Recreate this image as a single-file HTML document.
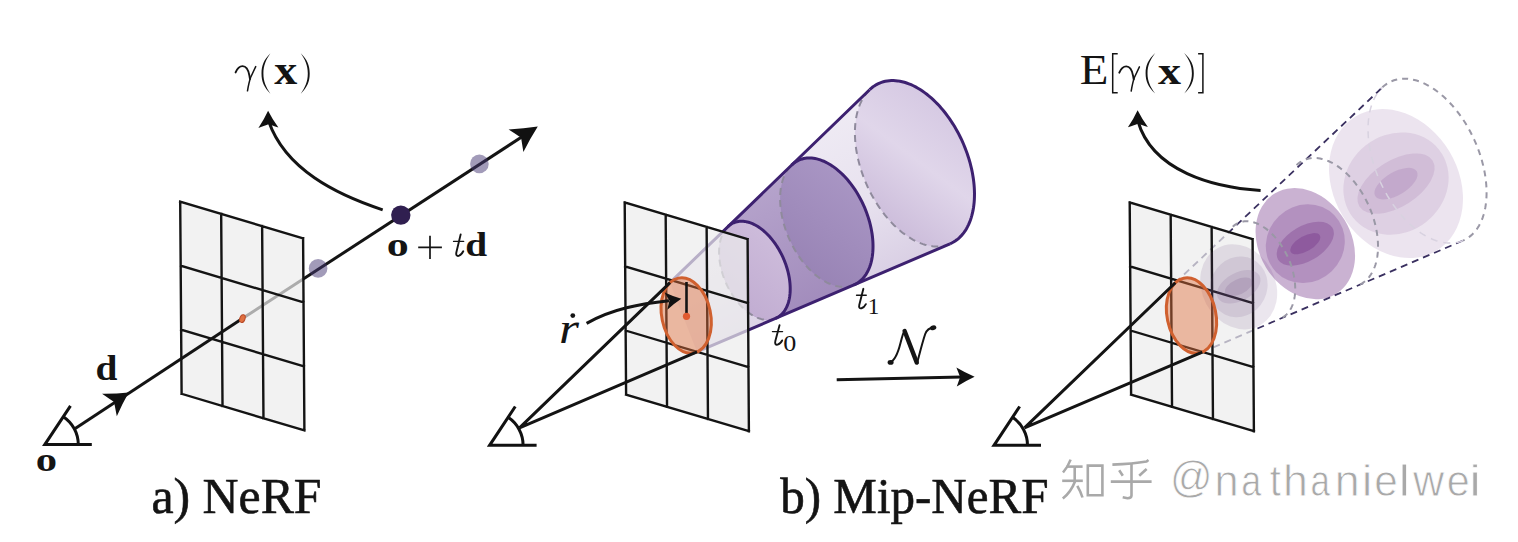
<!DOCTYPE html>
<html><head><meta charset="utf-8"><title>NeRF vs Mip-NeRF</title><style>
html,body{margin:0;padding:0;background:#fff;}
body{width:1518px;height:542px;overflow:hidden;font-family:"Liberation Sans",sans-serif;}
svg{display:block;}
</style></head><body>
<svg width="1518" height="542" viewBox="0 0 1518 542">
<defs><linearGradient id="gLat" gradientUnits="userSpaceOnUse" x1="869.61" y1="89.71" x2="949.97" y2="243.86"><stop offset="0" stop-color="#efebf4"/><stop offset="0.55" stop-color="#e8e2ef"/><stop offset="1" stop-color="#d9cfe4"/></linearGradient><linearGradient id="gEnd" gradientUnits="userSpaceOnUse" x1="878" y1="95" x2="958" y2="238"><stop offset="0" stop-color="#d3c6e1"/><stop offset="0.45" stop-color="#e0d6ea"/><stop offset="1" stop-color="#c6b5d6"/></linearGradient><linearGradient id="gFr" gradientUnits="userSpaceOnUse" x1="791.54" y1="165.13" x2="853.97" y2="284.9"><stop offset="0" stop-color="#b6a4cc"/><stop offset="1" stop-color="#a28cbc"/></linearGradient><linearGradient id="gT1" gradientUnits="userSpaceOnUse" x1="800" y1="170" x2="862" y2="280"><stop offset="0" stop-color="#aa97c5"/><stop offset="1" stop-color="#9681b3"/></linearGradient><linearGradient id="gT0" gradientUnits="userSpaceOnUse" x1="740" y1="222" x2="785" y2="315"><stop offset="0" stop-color="#cfbedc"/><stop offset="1" stop-color="#bfaad0"/></linearGradient></defs>
<line x1="242.4" y1="318.6" x2="529.43" y2="131.97" stroke="#141414" stroke-width="3"/>
<path d="M180.2,201.6 L303.1,238.3 L304.4,430.4 L181.6,393.8 Z" fill="rgba(236,236,236,0.7)"/>
<path d="M180.2,201.6 L303.1,238.3 M180.2,201.6 L181.6,393.8 M180.67,265.67 L303.53,302.33 M221.17,213.83 L222.53,406 M181.13,329.73 L303.97,366.37 M262.13,226.07 L263.47,418.2 M181.6,393.8 L304.4,430.4 M303.1,238.3 L304.4,430.4" stroke="#141414" stroke-width="2.4" fill="none" stroke-linecap="square" stroke-linejoin="miter"/>
<line x1="75.2" y1="428.4" x2="242.4" y2="318.6" stroke="#141414" stroke-width="3"/>
<ellipse cx="242.4" cy="318.6" rx="2.6" ry="4" transform="rotate(20 242.4 318.6)" fill="#e07040" stroke="#b84a28" stroke-width="1"/>
<circle cx="318.1" cy="268.4" r="9.3" fill="rgba(70,55,115,0.5)"/>
<circle cx="479.4" cy="163.9" r="9.3" fill="rgba(70,55,115,0.5)"/>
<circle cx="400.8" cy="215.1" r="9.7" fill="#301f50"/>
<path d="M128.7,392.4 Q122.27,403.58 116.82,416.28 Q114.88,406.26 114.04,401.96 Q110.45,399.47 102.06,393.66 Q115.87,393.79 128.7,392.4 Z" fill="#111"/>
<path d="M537.8,126.5 Q530.11,138.5 523.4,152.02 Q521.76,141.81 521.05,137.43 Q517.33,135.02 508.65,129.4 Q523.72,128.71 537.8,126.5 Z" fill="#111"/>
<path d="M91.8,444.6 L44.8,444.6 L70.47,405.82 M63.29,416.66 A33.5,33.5 0 0 1 78.3,444.6" stroke="#111" stroke-width="3.0" fill="none" stroke-linejoin="miter"/>
<path d="M382.7,209.8 C337.0,194.7 285.3,169.7 268.6,121.0" stroke="#141414" stroke-width="3" fill="none"/>
<path d="M268.1,110.8 Q272.35,119.23 278.4,127.62 Q271.35,125.3 268.34,124.3 Q265.35,125.4 258.4,127.97 Q264.15,119.37 268.1,110.8 Z" fill="#111"/>
<path d="M670.01,282.67 L869.61,89.71 L871.13,88.33 L872.71,87.05 L874.35,85.89 L876.05,84.84 L877.8,83.9 L879.6,83.07 L881.46,82.36 L883.36,81.76 L885.3,81.28 L887.29,80.92 L889.32,80.68 L891.39,80.55 L893.48,80.54 L895.61,80.66 L897.77,80.89 L899.95,81.23 L902.15,81.7 L904.37,82.28 L906.6,82.98 L908.84,83.8 L911.1,84.72 L913.35,85.76 L915.62,86.92 L917.87,88.18 L920.13,89.54 L922.38,91.02 L924.61,92.6 L926.83,94.28 L929.04,96.05 L931.22,97.93 L933.38,99.9 L935.51,101.96 L937.62,104.1 L939.69,106.34 L941.72,108.65 L943.72,111.04 L945.68,113.51 L947.59,116.05 L949.45,118.66 L951.26,121.33 L953.03,124.06 L954.73,126.84 L956.38,129.68 L957.97,132.57 L959.5,135.5 L960.97,138.48 L962.36,141.48 L963.69,144.52 L964.95,147.59 L966.14,150.68 L967.26,153.79 L968.3,156.91 L969.26,160.04 L970.15,163.18 L970.95,166.31 L971.68,169.44 L972.32,172.57 L972.88,175.68 L973.36,178.77 L973.76,181.84 L974.07,184.89 L974.29,187.9 L974.43,190.88 L974.49,193.82 L974.45,196.72 L974.34,199.57 L974.14,202.37 L973.85,205.11 L973.48,207.8 L973.03,210.42 L972.49,212.97 L971.87,215.45 L971.16,217.86 L970.38,220.19 L969.52,222.44 L968.58,224.61 L967.56,226.68 L966.47,228.67 L965.3,230.56 L964.06,232.36 L962.75,234.06 L961.37,235.66 L959.92,237.16 L958.41,238.55 L956.84,239.83 L955.2,241.01 L953.51,242.07 L951.77,243.02 L949.97,243.86 L697.03,351.95 Z" fill="url(#gLat)"/>
<ellipse cx="914.7" cy="163.5" rx="87.76" ry="52.5" transform="rotate(66 914.7 163.5)" fill="url(#gEnd)"/>
<path d="M791.54,165.13 L792.72,164.05 L793.94,163.06 L795.22,162.16 L796.54,161.34 L797.9,160.61 L799.3,159.97 L800.74,159.41 L802.22,158.95 L803.73,158.58 L805.28,158.3 L806.85,158.11 L808.46,158.01 L810.09,158 L811.74,158.09 L813.41,158.27 L815.11,158.54 L816.82,158.9 L818.54,159.36 L820.28,159.9 L822.02,160.53 L823.77,161.25 L825.53,162.06 L827.28,162.95 L829.04,163.93 L830.79,165 L832.53,166.14 L834.27,167.37 L836,168.67 L837.71,170.06 L839.41,171.51 L841.09,173.04 L842.74,174.64 L844.38,176.31 L845.99,178.05 L847.57,179.84 L849.12,181.7 L850.64,183.62 L852.12,185.59 L853.57,187.62 L854.98,189.69 L856.35,191.81 L857.68,193.98 L858.96,196.19 L860.19,198.43 L861.38,200.71 L862.52,203.02 L863.61,205.35 L864.64,207.72 L865.62,210.1 L866.54,212.5 L867.41,214.91 L868.22,217.34 L868.96,219.77 L869.65,222.21 L870.28,224.65 L870.84,227.08 L871.34,229.51 L871.78,231.92 L872.15,234.33 L872.46,236.71 L872.7,239.08 L872.87,241.42 L872.98,243.74 L873.02,246.02 L873,248.27 L872.91,250.49 L872.75,252.66 L872.53,254.8 L872.24,256.88 L871.89,258.92 L871.47,260.9 L870.99,262.83 L870.44,264.7 L869.83,266.51 L869.16,268.26 L868.43,269.94 L867.64,271.55 L866.79,273.1 L865.88,274.57 L864.92,275.97 L863.9,277.29 L862.83,278.53 L861.71,279.69 L860.53,280.77 L859.31,281.77 L858.04,282.68 L856.73,283.51 L855.37,284.25 L853.97,284.9 L775.63,318.4 L774.68,318.77 L773.7,319.1 L772.71,319.37 L771.69,319.59 L770.66,319.76 L769.61,319.87 L768.54,319.94 L767.46,319.94 L766.37,319.9 L765.26,319.8 L764.14,319.65 L763.01,319.45 L761.87,319.2 L760.73,318.89 L759.58,318.53 L758.42,318.12 L757.26,317.65 L756.09,317.14 L754.93,316.58 L753.76,315.97 L752.59,315.31 L751.43,314.6 L750.27,313.84 L749.12,313.04 L747.97,312.19 L746.83,311.29 L745.69,310.36 L744.57,309.38 L743.46,308.36 L742.35,307.29 L741.27,306.19 L740.19,305.05 L739.14,303.87 L738.09,302.66 L737.07,301.41 L736.07,300.13 L735.08,298.82 L734.12,297.48 L733.18,296.11 L732.26,294.71 L731.36,293.28 L730.49,291.83 L729.65,290.36 L728.83,288.87 L728.05,287.36 L727.29,285.83 L726.56,284.28 L725.85,282.72 L725.19,281.14 L724.55,279.55 L723.94,277.96 L723.37,276.35 L722.83,274.74 L722.33,273.13 L721.86,271.51 L721.42,269.89 L721.02,268.27 L720.66,266.66 L720.33,265.05 L720.04,263.44 L719.79,261.84 L719.58,260.26 L719.4,258.68 L719.26,257.12 L719.16,255.57 L719.1,254.03 L719.07,252.52 L719.08,251.02 L719.14,249.54 L719.23,248.09 L719.35,246.66 L719.52,245.26 L719.72,243.88 L719.97,242.54 L720.24,241.22 L720.56,239.94 L720.91,238.68 L721.3,237.47 L721.72,236.28 L722.18,235.14 L722.68,234.03 L723.21,232.96 L723.77,231.93 L724.36,230.95 L724.99,230 L725.65,229.1 L726.35,228.25 L727.07,227.44 L727.82,226.68 Z" fill="url(#gFr)"/>
<ellipse cx="826.57" cy="222.46" rx="68.19" ry="40.79" transform="rotate(66 826.57 222.46)" fill="url(#gT1)"/>
<ellipse cx="754.64" cy="270.58" rx="52.22" ry="31.24" transform="rotate(66 754.64 270.58)" fill="url(#gT0)"/>
<path d="M775.63,318.4 L774.68,318.77 L773.7,319.1 L772.71,319.37 L771.69,319.59 L770.66,319.76 L769.61,319.87 L768.54,319.94 L767.46,319.94 L766.37,319.9 L765.26,319.8 L764.14,319.65 L763.01,319.45 L761.87,319.2 L760.73,318.89 L759.58,318.53 L758.42,318.12 L757.26,317.65 L756.09,317.14 L754.93,316.58 L753.76,315.97 L752.59,315.31 L751.43,314.6 L750.27,313.84 L749.12,313.04 L747.97,312.19 L746.83,311.29 L745.69,310.36 L744.57,309.38 L743.46,308.36 L742.35,307.29 L741.27,306.19 L740.19,305.05 L739.14,303.87 L738.09,302.66 L737.07,301.41 L736.07,300.13 L735.08,298.82 L734.12,297.48 L733.18,296.11 L732.26,294.71 L731.36,293.28 L730.49,291.83 L729.65,290.36 L728.83,288.87 L728.05,287.36 L727.29,285.83 L726.56,284.28 L725.85,282.72 L725.19,281.14 L724.55,279.55 L723.94,277.96 L723.37,276.35 L722.83,274.74 L722.33,273.13 L721.86,271.51 L721.42,269.89 L721.02,268.27 L720.66,266.66 L720.33,265.05 L720.04,263.44 L719.79,261.84 L719.58,260.26 L719.4,258.68 L719.26,257.12 L719.16,255.57 L719.1,254.03 L719.07,252.52 L719.08,251.02 L719.14,249.54 L719.23,248.09 L719.35,246.66 L719.52,245.26 L719.72,243.88 L719.97,242.54 L720.24,241.22 L720.56,239.94 L720.91,238.68 L721.3,237.47 L721.72,236.28 L722.18,235.14 L722.68,234.03 L723.21,232.96 L723.77,231.93 L724.36,230.95 L724.99,230 L725.65,229.1 L726.35,228.25 L727.07,227.44 L727.82,226.68" stroke="#8f8a9c" stroke-width="2" fill="none" stroke-dasharray="7,5"/>
<path d="M853.97,284.9 L852.73,285.39 L851.46,285.82 L850.16,286.17 L848.83,286.46 L847.48,286.68 L846.11,286.83 L844.72,286.91 L843.31,286.92 L841.88,286.87 L840.43,286.74 L838.97,286.54 L837.5,286.28 L836.01,285.94 L834.52,285.54 L833.01,285.07 L831.5,284.54 L829.98,283.93 L828.46,283.26 L826.94,282.53 L825.42,281.73 L823.89,280.86 L822.37,279.94 L820.86,278.95 L819.35,277.9 L817.85,276.79 L816.36,275.63 L814.88,274.4 L813.41,273.12 L811.96,271.79 L810.52,270.4 L809.1,268.96 L807.7,267.47 L806.32,265.94 L804.96,264.35 L803.62,262.73 L802.31,261.05 L801.02,259.34 L799.77,257.59 L798.54,255.8 L797.34,253.97 L796.17,252.11 L795.03,250.21 L793.93,248.29 L792.87,246.34 L791.84,244.37 L790.84,242.37 L789.89,240.35 L788.98,238.31 L788.1,236.25 L787.27,234.18 L786.48,232.09 L785.73,230 L785.03,227.89 L784.37,225.79 L783.75,223.67 L783.19,221.56 L782.66,219.45 L782.19,217.34 L781.76,215.23 L781.39,213.14 L781.06,211.05 L780.78,208.98 L780.55,206.92 L780.36,204.88 L780.23,202.85 L780.15,200.85 L780.12,198.87 L780.13,196.92 L780.2,194.99 L780.32,193.09 L780.49,191.23 L780.7,189.39 L780.97,187.6 L781.28,185.84 L781.65,184.12 L782.06,182.44 L782.52,180.81 L783.03,179.21 L783.58,177.67 L784.18,176.17 L784.83,174.73 L785.52,173.33 L786.25,171.99 L787.03,170.7 L787.85,169.47 L788.71,168.3 L789.62,167.18 L790.56,166.12 L791.54,165.13" stroke="#8f8a9c" stroke-width="2" fill="none" stroke-dasharray="7,5"/>
<path d="M949.97,243.86 L948.37,244.49 L946.73,245.04 L945.06,245.5 L943.35,245.87 L941.62,246.15 L939.85,246.34 L938.06,246.45 L936.24,246.46 L934.4,246.39 L932.54,246.23 L930.66,245.97 L928.76,245.63 L926.85,245.2 L924.93,244.69 L922.99,244.08 L921.04,243.39 L919.09,242.61 L917.13,241.75 L915.17,240.81 L913.21,239.78 L911.26,238.67 L909.3,237.47 L907.35,236.2 L905.41,234.85 L903.48,233.43 L901.56,231.92 L899.65,230.35 L897.77,228.7 L895.9,226.99 L894.04,225.2 L892.22,223.35 L890.41,221.43 L888.63,219.45 L886.88,217.42 L885.16,215.32 L883.48,213.17 L881.82,210.96 L880.2,208.71 L878.62,206.4 L877.08,204.05 L875.57,201.65 L874.11,199.22 L872.7,196.74 L871.32,194.24 L870,191.69 L868.72,189.12 L867.49,186.52 L866.32,183.89 L865.19,181.25 L864.12,178.58 L863.1,175.9 L862.14,173.2 L861.23,170.49 L860.38,167.78 L859.59,165.06 L858.86,162.34 L858.19,159.62 L857.58,156.91 L857.03,154.2 L856.55,151.5 L856.12,148.82 L855.76,146.15 L855.47,143.5 L855.23,140.87 L855.06,138.26 L854.96,135.69 L854.91,133.14 L854.94,130.62 L855.02,128.14 L855.17,125.7 L855.39,123.3 L855.67,120.94 L856.01,118.63 L856.42,116.37 L856.88,114.15 L857.41,111.99 L858.01,109.89 L858.66,107.84 L859.37,105.85 L860.14,103.93 L860.98,102.07 L861.86,100.27 L862.81,98.55 L863.81,96.89 L864.87,95.3 L865.98,93.79 L867.14,92.35 L868.35,90.99 L869.61,89.71" stroke="#8f8a9c" stroke-width="2" fill="none" stroke-dasharray="7,5"/>
<path d="M727.82,226.68 L728.72,225.85 L729.66,225.1 L730.63,224.4 L731.64,223.78 L732.69,223.22 L733.76,222.73 L734.86,222.3 L736,221.95 L737.15,221.66 L738.34,221.45 L739.54,221.3 L740.77,221.23 L742.02,221.22 L743.29,221.29 L744.57,221.43 L745.87,221.63 L747.17,221.91 L748.49,222.26 L749.82,222.67 L751.16,223.16 L752.5,223.71 L753.84,224.33 L755.19,225.01 L756.53,225.76 L757.87,226.58 L759.21,227.46 L760.54,228.39 L761.86,229.39 L763.17,230.45 L764.47,231.57 L765.76,232.74 L767.03,233.96 L768.28,235.24 L769.51,236.57 L770.72,237.95 L771.91,239.37 L773.07,240.84 L774.21,242.35 L775.32,243.9 L776.4,245.49 L777.45,247.11 L778.46,248.77 L779.45,250.46 L780.39,252.18 L781.3,253.92 L782.17,255.69 L783,257.48 L783.8,259.29 L784.55,261.12 L785.25,262.95 L785.92,264.8 L786.53,266.66 L787.11,268.52 L787.63,270.39 L788.11,272.25 L788.55,274.12 L788.93,275.98 L789.26,277.83 L789.55,279.67 L789.78,281.5 L789.97,283.31 L790.1,285.1 L790.18,286.88 L790.22,288.63 L790.2,290.35 L790.13,292.05 L790.01,293.71 L789.84,295.34 L789.62,296.94 L789.35,298.5 L789.03,300.02 L788.66,301.49 L788.24,302.93 L787.77,304.31 L787.26,305.65 L786.7,306.94 L786.1,308.18 L785.44,309.36 L784.75,310.49 L784.01,311.56 L783.23,312.57 L782.41,313.52 L781.55,314.41 L780.65,315.24 L779.72,316 L778.74,316.7 L777.74,317.33 L776.7,317.9 L775.63,318.4" stroke="#3d2170" stroke-width="3" fill="none"/>
<path d="M791.54,165.13 L792.72,164.05 L793.94,163.06 L795.22,162.16 L796.54,161.34 L797.9,160.61 L799.3,159.97 L800.74,159.41 L802.22,158.95 L803.73,158.58 L805.28,158.3 L806.85,158.11 L808.46,158.01 L810.09,158 L811.74,158.09 L813.41,158.27 L815.11,158.54 L816.82,158.9 L818.54,159.36 L820.28,159.9 L822.02,160.53 L823.77,161.25 L825.53,162.06 L827.28,162.95 L829.04,163.93 L830.79,165 L832.53,166.14 L834.27,167.37 L836,168.67 L837.71,170.06 L839.41,171.51 L841.09,173.04 L842.74,174.64 L844.38,176.31 L845.99,178.05 L847.57,179.84 L849.12,181.7 L850.64,183.62 L852.12,185.59 L853.57,187.62 L854.98,189.69 L856.35,191.81 L857.68,193.98 L858.96,196.19 L860.19,198.43 L861.38,200.71 L862.52,203.02 L863.61,205.35 L864.64,207.72 L865.62,210.1 L866.54,212.5 L867.41,214.91 L868.22,217.34 L868.96,219.77 L869.65,222.21 L870.28,224.65 L870.84,227.08 L871.34,229.51 L871.78,231.92 L872.15,234.33 L872.46,236.71 L872.7,239.08 L872.87,241.42 L872.98,243.74 L873.02,246.02 L873,248.27 L872.91,250.49 L872.75,252.66 L872.53,254.8 L872.24,256.88 L871.89,258.92 L871.47,260.9 L870.99,262.83 L870.44,264.7 L869.83,266.51 L869.16,268.26 L868.43,269.94 L867.64,271.55 L866.79,273.1 L865.88,274.57 L864.92,275.97 L863.9,277.29 L862.83,278.53 L861.71,279.69 L860.53,280.77 L859.31,281.77 L858.04,282.68 L856.73,283.51 L855.37,284.25 L853.97,284.9" stroke="#3d2170" stroke-width="3" fill="none"/>
<path d="M869.61,89.71 L871.13,88.33 L872.71,87.05 L874.35,85.89 L876.05,84.84 L877.8,83.9 L879.6,83.07 L881.46,82.36 L883.36,81.76 L885.3,81.28 L887.29,80.92 L889.32,80.68 L891.39,80.55 L893.48,80.54 L895.61,80.66 L897.77,80.89 L899.95,81.23 L902.15,81.7 L904.37,82.28 L906.6,82.98 L908.84,83.8 L911.1,84.72 L913.35,85.76 L915.62,86.92 L917.87,88.18 L920.13,89.54 L922.38,91.02 L924.61,92.6 L926.83,94.28 L929.04,96.05 L931.22,97.93 L933.38,99.9 L935.51,101.96 L937.62,104.1 L939.69,106.34 L941.72,108.65 L943.72,111.04 L945.68,113.51 L947.59,116.05 L949.45,118.66 L951.26,121.33 L953.03,124.06 L954.73,126.84 L956.38,129.68 L957.97,132.57 L959.5,135.5 L960.97,138.48 L962.36,141.48 L963.69,144.52 L964.95,147.59 L966.14,150.68 L967.26,153.79 L968.3,156.91 L969.26,160.04 L970.15,163.18 L970.95,166.31 L971.68,169.44 L972.32,172.57 L972.88,175.68 L973.36,178.77 L973.76,181.84 L974.07,184.89 L974.29,187.9 L974.43,190.88 L974.49,193.82 L974.45,196.72 L974.34,199.57 L974.14,202.37 L973.85,205.11 L973.48,207.8 L973.03,210.42 L972.49,212.97 L971.87,215.45 L971.16,217.86 L970.38,220.19 L969.52,222.44 L968.58,224.61 L967.56,226.68 L966.47,228.67 L965.3,230.56 L964.06,232.36 L962.75,234.06 L961.37,235.66 L959.92,237.16 L958.41,238.55 L956.84,239.83 L955.2,241.01 L953.51,242.07 L951.77,243.02 L949.97,243.86" stroke="#3d2170" stroke-width="3" fill="none"/>
<path d="M670.01,282.67 L869.61,89.71 M697.03,351.95 L949.97,243.86" stroke="#3d2170" stroke-width="3" fill="none"/>
<path d="M624.7,202.4 L747.6,239.1 L748.9,431.2 L626.1,394.6 Z" fill="rgba(236,236,236,0.7)"/>
<path d="M624.7,202.4 L747.6,239.1 M624.7,202.4 L626.1,394.6 M625.17,266.47 L748.03,303.13 M665.67,214.63 L667.03,406.8 M625.63,330.53 L748.47,367.17 M706.63,226.87 L707.97,419 M626.1,394.6 L748.9,431.2 M747.6,239.1 L748.9,431.2" stroke="#141414" stroke-width="2.4" fill="none" stroke-linecap="square" stroke-linejoin="miter"/>
<path d="M536.6,445.3 L489.6,445.3 L515.27,406.52 M508.09,417.36 A33.5,33.5 0 0 1 523.1,445.3" stroke="#111" stroke-width="3.0" fill="none" stroke-linejoin="miter"/>
<ellipse cx="686.2" cy="315.5" rx="38.2" ry="24.4" transform="rotate(78.1 686.2 315.5)" fill="rgba(225,110,60,0.45)" stroke="#d0602f" stroke-width="3"/>
<path d="M519.5,427.9 L670.01,282.67 M519.5,427.9 L697.03,351.95" stroke="#141414" stroke-width="3" fill="none"/>
<line x1="686.5" y1="316" x2="686.5" y2="282" stroke="#141414" stroke-width="2.6"/>
<circle cx="686.5" cy="316.3" r="3.6" fill="#e05a30"/>
<path d="M586.6,323.4 C611.8,308.9 640.5,303.8 669.0,300.8" stroke="#141414" stroke-width="3" fill="none"/>
<path d="M681.3,298.7 Q674.19,303.32 667.35,309.72 Q668.82,303.32 669.45,300.58 Q668,298.16 664.63,292.53 Q673.11,296.5 681.3,298.7 Z" fill="#111"/>
<line x1="836.7" y1="379.8" x2="962" y2="377" stroke="#141414" stroke-width="3"/>
<path d="M974.6,376.7 Q965.69,380.75 956.82,386.61 Q959.12,379.9 960.1,377.03 Q958.99,374.2 956.39,367.61 Q965.51,373.06 974.6,376.7 Z" fill="#111"/>
<path d="M1175.33,282.75 L1382.37,87.37 M1202.31,352.05 L1462.93,240.59" stroke="#3a3060" stroke-width="1.8" fill="none" stroke-dasharray="7,5"/>
<path d="M1129.7,202.4 L1252.6,239.1 L1253.9,431.2 L1131.1,394.6 Z" fill="rgba(236,236,236,0.7)"/>
<path d="M1129.7,202.4 L1252.6,239.1 M1129.7,202.4 L1131.1,394.6 M1130.17,266.47 L1253.03,303.13 M1170.67,214.63 L1172.03,406.8 M1130.63,330.53 L1253.47,367.17 M1211.63,226.87 L1212.97,419 M1131.1,394.6 L1253.9,431.2 M1252.6,239.1 L1253.9,431.2" stroke="#141414" stroke-width="2.4" fill="none" stroke-linecap="square" stroke-linejoin="miter"/>
<ellipse cx="1238.7" cy="286.8" rx="44.14" ry="36.72" transform="rotate(61.81 1238.7 286.8)" fill="rgba(112,78,132,0.14)"/>
<ellipse cx="1238.7" cy="286.8" rx="30.89" ry="28.37" transform="rotate(116.73 1238.7 286.8)" fill="rgba(112,78,132,0.13)"/>
<ellipse cx="1238.7" cy="286.8" rx="23.59" ry="14.06" transform="rotate(151.6 1238.7 286.8)" fill="rgba(112,78,132,0.15)"/>
<ellipse cx="1238.7" cy="286.8" rx="14.67" ry="7.55" transform="rotate(155.33 1238.7 286.8)" fill="rgba(112,78,132,0.18)"/>
<ellipse cx="1305.3" cy="243.7" rx="58.8" ry="45.92" transform="rotate(58.59 1305.3 243.7)" fill="rgba(122,62,142,0.4)"/>
<ellipse cx="1305.3" cy="243.7" rx="40.7" ry="38.16" transform="rotate(136.13 1305.3 243.7)" fill="rgba(122,62,142,0.28)"/>
<ellipse cx="1305.3" cy="243.7" rx="31.53" ry="17.54" transform="rotate(149.55 1305.3 243.7)" fill="rgba(122,62,142,0.37)"/>
<ellipse cx="1305.3" cy="243.7" rx="16.71" ry="7.63" transform="rotate(150.33 1305.3 243.7)" fill="rgba(122,62,142,0.45)"/>
<ellipse cx="1396" cy="183.6" rx="78.43" ry="62.35" transform="rotate(58.98 1396 183.6)" fill="rgba(122,62,142,0.14)"/>
<ellipse cx="1396" cy="183.6" rx="54.8" ry="48.84" transform="rotate(141.81 1396 183.6)" fill="rgba(122,62,142,0.12)"/>
<ellipse cx="1396" cy="183.6" rx="43.21" ry="23.13" transform="rotate(147.86 1396 183.6)" fill="rgba(122,62,142,0.13)"/>
<ellipse cx="1396" cy="183.6" rx="24.2" ry="11.43" transform="rotate(149.24 1396 183.6)" fill="rgba(122,62,142,0.15)"/>
<path d="M1232.82,226.68 L1233.72,225.85 L1234.66,225.1 L1235.63,224.4 L1236.64,223.78 L1237.69,223.22 L1238.76,222.73 L1239.86,222.3 L1241,221.95 L1242.15,221.66 L1243.34,221.45 L1244.54,221.3 L1245.77,221.23 L1247.02,221.22 L1248.29,221.29 L1249.57,221.43 L1250.87,221.63 L1252.17,221.91 L1253.49,222.26 L1254.82,222.67 L1256.16,223.16 L1257.5,223.71 L1258.84,224.33 L1260.19,225.01 L1261.53,225.76 L1262.87,226.58 L1264.21,227.46 L1265.54,228.39 L1266.86,229.39 L1268.17,230.45 L1269.47,231.57 L1270.76,232.74 L1272.03,233.96 L1273.28,235.24 L1274.51,236.57 L1275.72,237.95 L1276.91,239.37 L1278.07,240.84 L1279.21,242.35 L1280.32,243.9 L1281.4,245.49 L1282.45,247.11 L1283.46,248.77 L1284.45,250.46 L1285.39,252.18 L1286.3,253.92 L1287.17,255.69 L1288,257.48 L1288.8,259.29 L1289.55,261.12 L1290.25,262.95 L1290.92,264.8 L1291.53,266.66 L1292.11,268.52 L1292.63,270.39 L1293.11,272.25 L1293.55,274.12 L1293.93,275.98 L1294.26,277.83 L1294.55,279.67 L1294.78,281.5 L1294.97,283.31 L1295.1,285.1 L1295.18,286.88 L1295.22,288.63 L1295.2,290.35 L1295.13,292.05 L1295.01,293.71 L1294.84,295.34 L1294.62,296.94 L1294.35,298.5 L1294.03,300.02 L1293.66,301.49 L1293.24,302.93 L1292.77,304.31 L1292.26,305.65 L1291.7,306.94 L1291.1,308.18 L1290.44,309.36 L1289.75,310.49 L1289.01,311.56 L1288.23,312.57 L1287.41,313.52 L1286.55,314.41 L1285.65,315.24 L1284.72,316 L1283.74,316.7 L1282.74,317.33 L1281.7,317.9 L1280.63,318.4" stroke="#9a98a6" stroke-width="2" fill="none" stroke-dasharray="6,5"/>
<path d="M1296.54,165.13 L1297.72,164.05 L1298.94,163.06 L1300.22,162.16 L1301.54,161.34 L1302.9,160.61 L1304.3,159.97 L1305.74,159.41 L1307.22,158.95 L1308.73,158.58 L1310.28,158.3 L1311.85,158.11 L1313.46,158.01 L1315.09,158 L1316.74,158.09 L1318.41,158.27 L1320.11,158.54 L1321.82,158.9 L1323.54,159.36 L1325.28,159.9 L1327.02,160.53 L1328.77,161.25 L1330.53,162.06 L1332.28,162.95 L1334.04,163.93 L1335.79,165 L1337.53,166.14 L1339.27,167.37 L1341,168.67 L1342.71,170.06 L1344.41,171.51 L1346.09,173.04 L1347.74,174.64 L1349.38,176.31 L1350.99,178.05 L1352.57,179.84 L1354.12,181.7 L1355.64,183.62 L1357.12,185.59 L1358.57,187.62 L1359.98,189.69 L1361.35,191.81 L1362.68,193.98 L1363.96,196.19 L1365.19,198.43 L1366.38,200.71 L1367.52,203.02 L1368.61,205.35 L1369.64,207.72 L1370.62,210.1 L1371.54,212.5 L1372.41,214.91 L1373.22,217.34 L1373.96,219.77 L1374.65,222.21 L1375.28,224.65 L1375.84,227.08 L1376.34,229.51 L1376.78,231.92 L1377.15,234.33 L1377.46,236.71 L1377.7,239.08 L1377.87,241.42 L1377.98,243.74 L1378.02,246.02 L1378,248.27 L1377.91,250.49 L1377.75,252.66 L1377.53,254.8 L1377.24,256.88 L1376.89,258.92 L1376.47,260.9 L1375.99,262.83 L1375.44,264.7 L1374.83,266.51 L1374.16,268.26 L1373.43,269.94 L1372.64,271.55 L1371.79,273.1 L1370.88,274.57 L1369.92,275.97 L1368.9,277.29 L1367.83,278.53 L1366.71,279.69 L1365.53,280.77 L1364.31,281.77 L1363.04,282.68 L1361.73,283.51 L1360.37,284.25 L1358.97,284.9" stroke="#9a98a6" stroke-width="2" fill="none" stroke-dasharray="6,5"/>
<path d="M1382.37,87.37 L1383.86,86.04 L1385.42,84.81 L1387.03,83.69 L1388.7,82.68 L1390.42,81.78 L1392.2,80.99 L1394.02,80.32 L1395.89,79.76 L1397.81,79.32 L1399.77,78.99 L1401.77,78.78 L1403.81,78.68 L1405.88,78.71 L1407.98,78.85 L1410.1,79.11 L1412.25,79.48 L1414.43,79.97 L1416.62,80.57 L1418.82,81.29 L1421.04,82.12 L1423.27,83.07 L1425.5,84.12 L1427.74,85.28 L1429.97,86.56 L1432.2,87.93 L1434.43,89.41 L1436.64,91 L1438.84,92.68 L1441.02,94.46 L1443.19,96.33 L1445.33,98.3 L1447.45,100.35 L1449.53,102.49 L1451.59,104.71 L1453.61,107.02 L1455.6,109.4 L1457.54,111.85 L1459.44,114.37 L1461.3,116.96 L1463.1,119.62 L1464.86,122.33 L1466.56,125.09 L1468.21,127.91 L1469.8,130.77 L1471.32,133.68 L1472.79,136.62 L1474.19,139.6 L1475.52,142.61 L1476.79,145.65 L1477.98,148.7 L1479.11,151.78 L1480.16,154.87 L1481.13,157.96 L1482.03,161.06 L1482.85,164.16 L1483.59,167.26 L1484.25,170.35 L1484.83,173.42 L1485.32,176.48 L1485.74,179.51 L1486.07,182.52 L1486.32,185.49 L1486.48,188.43 L1486.56,191.33 L1486.56,194.19 L1486.47,197 L1486.3,199.76 L1486.04,202.47 L1485.7,205.11 L1485.28,207.7 L1484.77,210.21 L1484.19,212.66 L1483.52,215.03 L1482.77,217.33 L1481.94,219.54 L1481.04,221.67 L1480.06,223.72 L1479,225.67 L1477.87,227.54 L1476.67,229.3 L1475.4,230.98 L1474.06,232.55 L1472.65,234.02 L1471.18,235.38 L1469.64,236.64 L1468.05,237.8 L1466.4,238.84 L1464.69,239.77 L1462.93,240.59" stroke="#9a98a6" stroke-width="2" fill="none" stroke-dasharray="6,5"/>
<path d="M1462.93,240.59 L1461.35,241.21 L1459.74,241.75 L1458.09,242.2 L1456.41,242.56 L1454.7,242.83 L1452.95,243.01 L1451.18,243.11 L1449.39,243.11 L1447.57,243.03 L1445.73,242.86 L1443.86,242.6 L1441.98,242.25 L1440.09,241.81 L1438.18,241.29 L1436.26,240.67 L1434.33,239.98 L1432.39,239.19 L1430.44,238.33 L1428.5,237.38 L1426.55,236.34 L1424.6,235.23 L1422.65,234.03 L1420.71,232.76 L1418.78,231.4 L1416.86,229.97 L1414.94,228.47 L1413.05,226.89 L1411.16,225.25 L1409.3,223.53 L1407.45,221.74 L1405.62,219.89 L1403.82,217.98 L1402.04,216 L1400.3,213.97 L1398.58,211.87 L1396.89,209.72 L1395.23,207.52 L1393.61,205.27 L1392.02,202.97 L1390.48,200.63 L1388.97,198.24 L1387.5,195.81 L1386.08,193.34 L1384.7,190.84 L1383.37,188.31 L1382.09,185.75 L1380.85,183.16 L1379.67,180.54 L1378.53,177.91 L1377.45,175.25 L1376.42,172.58 L1375.45,169.9 L1374.54,167.21 L1373.68,164.51 L1372.88,161.81 L1372.13,159.11 L1371.45,156.41 L1370.83,153.71 L1370.27,151.02 L1369.77,148.34 L1369.33,145.68 L1368.95,143.03 L1368.64,140.4 L1368.39,137.8 L1368.21,135.21 L1368.09,132.66 L1368.03,130.14 L1368.04,127.65 L1368.11,125.19 L1368.25,122.78 L1368.44,120.4 L1368.71,118.07 L1369.03,115.79 L1369.42,113.55 L1369.87,111.37 L1370.39,109.24 L1370.96,107.16 L1371.6,105.15 L1372.3,103.19 L1373.05,101.3 L1373.87,99.47 L1374.74,97.7 L1375.67,96.01 L1376.65,94.38 L1377.69,92.83 L1378.79,91.35 L1379.93,89.95 L1381.13,88.62 L1382.37,87.37" stroke="#d8d2e0" stroke-width="1.5" fill="none" stroke-dasharray="7,6"/>
<path d="M1041,445.3 L994,445.3 L1019.67,406.52 M1012.49,417.36 A33.5,33.5 0 0 1 1027.5,445.3" stroke="#111" stroke-width="3.0" fill="none" stroke-linejoin="miter"/>
<ellipse cx="1191.5" cy="315.6" rx="38.2" ry="24.4" transform="rotate(78.1 1191.5 315.6)" fill="rgba(225,110,60,0.45)" stroke="#d0602f" stroke-width="3"/>
<path d="M1024.5,427.9 L1175.33,282.75 M1024.5,427.9 L1202.31,352.05" stroke="#141414" stroke-width="3" fill="none"/>
<path d="M1260.6,190.4 C1214.0,187.5 1152.3,171.6 1137.9,121.0" stroke="#141414" stroke-width="3" fill="none"/>
<path d="M1137.6,110.2 Q1141.85,118.63 1147.9,127.02 Q1140.85,124.7 1137.84,123.7 Q1134.85,124.8 1127.9,127.37 Q1133.65,118.77 1137.6,110.2 Z" fill="#111"/>
<text transform="matrix(0.49806 0 0 0.50229 151.46 512.70)" font-family="'Liberation Serif', serif" font-style="normal" font-weight="normal" font-size="100" fill="#141414" stroke="#141414" stroke-width="1.19" stroke-linejoin="round">a) NeRF</text>
<text transform="matrix(0.49034 0 0 0.49924 780.20 512.70)" font-family="'Liberation Serif', serif" font-style="normal" font-weight="normal" font-size="100" fill="#141414" stroke="#141414" stroke-width="1.20" stroke-linejoin="round">b) Mip-NeRF</text>
<g transform="translate(0 0)" fill="none" stroke="#141414" stroke-linecap="round"><path d="M235.6,72.4 C237.5,67.8 239.8,66.1 242.6,66.1 C246.3,66.1 248.3,69.5 249.4,75.5 L250,79" stroke-width="1.9"/><path d="M255.7,66.6 L250.6,77.5 C249.2,81.5 248.3,86 247.5,90.8" stroke-width="1.5"/></g>
<path d="M270.40,53.30 C263.99,59.76 261.50,65.42 261.50,73.50 C261.50,81.58 263.99,87.24 270.40,93.70 C266.06,87.24 263.40,81.58 263.40,73.50 C263.40,65.42 266.06,59.76 270.40,53.30 Z" fill="#141414"/>
<text transform="matrix(0.46091 0 0 0.39783 274.18 83.80)" font-family="'Liberation Serif', serif" font-style="normal" font-weight="bold" font-size="100" fill="#141414">x</text>
<path d="M300.80,53.30 C307.21,59.76 309.70,65.42 309.70,73.50 C309.70,81.58 307.21,87.24 300.80,93.70 C305.14,87.24 307.80,81.58 307.80,73.50 C307.80,65.42 305.14,59.76 300.80,53.30 Z" fill="#141414"/>
<text transform="matrix(0.46948 0 0 0.42137 1079.71 83.80)" font-family="'Liberation Serif', serif" font-style="normal" font-weight="normal" font-size="100" fill="#141414">E</text>
<path d="M1117.7,53.8 L1112.7,53.8 L1112.7,92.8 L1117.7,92.8" stroke="#141414" stroke-width="1.5" fill="none"/>
<g transform="translate(883.7 0.3)" fill="none" stroke="#141414" stroke-linecap="round"><path d="M235.6,72.4 C237.5,67.8 239.8,66.1 242.6,66.1 C246.3,66.1 248.3,69.5 249.4,75.5 L250,79" stroke-width="1.9"/><path d="M255.7,66.6 L250.6,77.5 C249.2,81.5 248.3,86 247.5,90.8" stroke-width="1.5"/></g>
<path d="M1155.20,52.90 C1148.29,59.40 1145.60,65.08 1145.60,73.20 C1145.60,81.32 1148.29,87.00 1155.20,93.50 C1150.43,87.00 1147.50,81.32 1147.50,73.20 C1147.50,65.08 1150.43,59.40 1155.20,52.90 Z" fill="#141414"/>
<text transform="matrix(0.46091 0 0 0.38696 1157.98 83.60)" font-family="'Liberation Serif', serif" font-style="normal" font-weight="bold" font-size="100" fill="#141414">x</text>
<path d="M1184.20,52.90 C1191.11,59.40 1193.80,65.08 1193.80,73.20 C1193.80,81.32 1191.11,87.00 1184.20,93.50 C1188.97,87.00 1191.90,81.32 1191.90,73.20 C1191.90,65.08 1188.97,59.40 1184.20,52.90 Z" fill="#141414"/>
<path d="M1198.1,53.8 L1202.9,53.8 L1202.9,92.8 L1198.1,92.8" stroke="#141414" stroke-width="1.5" fill="none"/>
<text transform="matrix(0.44000 0 0 0.34583 386.65 256.15)" font-family="'Liberation Serif', serif" font-style="normal" font-weight="bold" font-size="100" fill="#141414">o</text>
<path d="M418.2,247.4 L441.9,247.4 M430,235.8 L430,259" stroke="#141414" stroke-width="1.7" fill="none"/>
<g fill="none" stroke="#141414" stroke-linecap="round"><path d="M460.66,234.38 L456.45,251.94 C455.69,255.13 456.88,256.27 458.72,255.82 C460.55,255.36 462.28,253.31 463.25,251.26" stroke-width="1.9"/><path d="M453.53,241.45 L463.68,241.45" stroke-width="1.3"/></g>
<text transform="matrix(0.39406 0 0 0.34610 465.22 256.05)" font-family="'Liberation Serif', serif" font-style="normal" font-weight="bold" font-size="100" fill="#141414">d</text>
<text transform="matrix(0.39406 0 0 0.35603 95.42 379.54)" font-family="'Liberation Serif', serif" font-style="normal" font-weight="bold" font-size="100" fill="#141414">d</text>
<text transform="matrix(0.42588 0 0 0.32708 35.80 471.07)" font-family="'Liberation Serif', serif" font-style="normal" font-weight="bold" font-size="100" fill="#141414">o</text>
<g fill="none" stroke="#141414" stroke-linecap="round"><path d="M779.56,325.12 L775.35,341.06 C774.59,343.96 775.78,344.99 777.62,344.58 C779.45,344.17 781.18,342.30 782.15,340.44" stroke-width="1.9"/><path d="M772.43,331.54 L782.58,331.54" stroke-width="1.3"/></g>
<text transform="matrix(0.26118 0 0 0.23704 783.32 350.66)" font-family="'Liberation Serif', serif" font-style="normal" font-weight="normal" font-size="100" fill="#141414">0</text>
<g fill="none" stroke="#141414" stroke-linecap="round"><path d="M863.38,288.82 L859.32,304.76 C858.60,307.66 859.74,308.69 861.51,308.28 C863.28,307.87 864.94,306.00 865.88,304.14" stroke-width="1.9"/><path d="M856.52,295.24 L866.29,295.24" stroke-width="1.3"/></g>
<text transform="matrix(0.23262 0 0 0.23939 867.66 313.70)" font-family="'Liberation Serif', serif" font-style="normal" font-weight="normal" font-size="100" fill="#141414">1</text>
<text transform="matrix(0.51348 0 0 0.43404 558.95 343.20)" font-family="'Liberation Serif', serif" font-style="italic" font-weight="normal" font-size="100" fill="#141414">r</text>
<circle cx="572.8" cy="315.6" r="2.4" fill="#141414"/>
<g fill="none" stroke="#141414" stroke-linecap="round"><path d="M889.5,362.5 C895.5,361 898.5,351 900.5,343 C902.5,335 903.5,331.5 904.6,330.8" stroke-width="2"/><path d="M904.6,331 L916.8,362.6" stroke-width="4.4"/><path d="M917.2,362.6 C919.5,354 922.5,342 925.2,334 C926.8,329.5 929,328 934,327.3" stroke-width="2"/></g><ellipse cx="890.6" cy="362.4" rx="3" ry="2.4" fill="#141414"/><ellipse cx="933.2" cy="327.8" rx="3.2" ry="2.3" transform="rotate(-15 933.2 327.8)" fill="#141414"/>
<text transform="matrix(0.41994 0 0 0.45217 1169.95 492.28)" font-family="'Liberation Sans', sans-serif" font-style="normal" font-weight="normal" font-size="100" fill="#a9a9a9" stroke="#fff" stroke-width="1.77" stroke-linejoin="round">@</text>
<text transform="matrix(0.43294 0 0 0.44093 1214.48 495.80)" font-family="'Liberation Sans', sans-serif" font-style="normal" font-weight="normal" font-size="100" fill="#a9a9a9" stroke="#fff" stroke-width="1.81" stroke-linejoin="round">n</text>
<text transform="matrix(0.35922 0 0 0.44093 1241.17 495.80)" font-family="'Liberation Sans', sans-serif" font-style="normal" font-weight="normal" font-size="100" fill="#a9a9a9" stroke="#fff" stroke-width="1.81" stroke-linejoin="round">a</text>
<text transform="matrix(0.40000 0 0 0.44093 1269.80 495.80)" font-family="'Liberation Sans', sans-serif" font-style="normal" font-weight="normal" font-size="100" fill="#a9a9a9" stroke="#fff" stroke-width="1.81" stroke-linejoin="round">t</text>
<text transform="matrix(0.44734 0 0 0.44093 1282.97 495.80)" font-family="'Liberation Sans', sans-serif" font-style="normal" font-weight="normal" font-size="100" fill="#a9a9a9" stroke="#fff" stroke-width="1.81" stroke-linejoin="round">h</text>
<text transform="matrix(0.34951 0 0 0.44093 1310.41 495.80)" font-family="'Liberation Sans', sans-serif" font-style="normal" font-weight="normal" font-size="100" fill="#a9a9a9" stroke="#fff" stroke-width="1.81" stroke-linejoin="round">a</text>
<text transform="matrix(0.44706 0 0 0.44093 1334.78 495.80)" font-family="'Liberation Sans', sans-serif" font-style="normal" font-weight="normal" font-size="100" fill="#a9a9a9" stroke="#fff" stroke-width="1.81" stroke-linejoin="round">n</text>
<text transform="matrix(0.48000 0 0 0.44093 1361.76 495.80)" font-family="'Liberation Sans', sans-serif" font-style="normal" font-weight="normal" font-size="100" fill="#a9a9a9" stroke="#fff" stroke-width="1.81" stroke-linejoin="round">i</text>
<text transform="matrix(0.42340 0 0 0.44093 1374.30 495.80)" font-family="'Liberation Sans', sans-serif" font-style="normal" font-weight="normal" font-size="100" fill="#a9a9a9" stroke="#fff" stroke-width="1.81" stroke-linejoin="round">e</text>
<text transform="matrix(0.52571 0 0 0.44093 1398.45 495.80)" font-family="'Liberation Sans', sans-serif" font-style="normal" font-weight="normal" font-size="100" fill="#a9a9a9" stroke="#fff" stroke-width="1.81" stroke-linejoin="round">l</text>
<text transform="matrix(0.43162 0 0 0.44093 1413.01 495.80)" font-family="'Liberation Sans', sans-serif" font-style="normal" font-weight="normal" font-size="100" fill="#a9a9a9" stroke="#fff" stroke-width="1.81" stroke-linejoin="round">w</text>
<text transform="matrix(0.41277 0 0 0.44093 1446.65 495.80)" font-family="'Liberation Sans', sans-serif" font-style="normal" font-weight="normal" font-size="100" fill="#a9a9a9" stroke="#fff" stroke-width="1.81" stroke-linejoin="round">e</text>
<text transform="matrix(0.52571 0 0 0.44093 1469.35 495.80)" font-family="'Liberation Sans', sans-serif" font-style="normal" font-weight="normal" font-size="100" fill="#a9a9a9" stroke="#fff" stroke-width="1.81" stroke-linejoin="round">i</text>
<g fill="none" stroke="#a9a9a9" stroke-width="2.6" stroke-linecap="butt"><path d="M1070.6,459.6 C1069,464 1066.5,468.5 1063,472.5"/><path d="M1066.5,466.6 L1082.6,466.6"/><path d="M1062.2,480.8 L1082.8,480.8"/><path d="M1074.7,466.6 L1074.7,481"/><path d="M1075,481.5 C1072.5,488 1068.5,494 1062.8,498.6"/><path d="M1077.3,485.8 C1079.5,489.5 1081.3,493.5 1082.5,497.5"/><path d="M1087.8,465.6 L1102.4,465.6 L1102.4,495.2 L1087.8,495.2 Z"/><path d="M1112.4,464.6 C1124,464.2 1138,463 1146.5,461.5 L1148.5,460"/><path d="M1119.2,470.2 L1122.8,475.8"/><path d="M1146.6,469 L1139.2,475.8"/><path d="M1110.8,481.6 L1151.6,481.6"/><path d="M1131.5,463.4 L1131.5,495.5 C1131.5,497.5 1130,498.2 1127.5,498.2 L1122.7,497.2"/></g>
</svg>
</body></html>
